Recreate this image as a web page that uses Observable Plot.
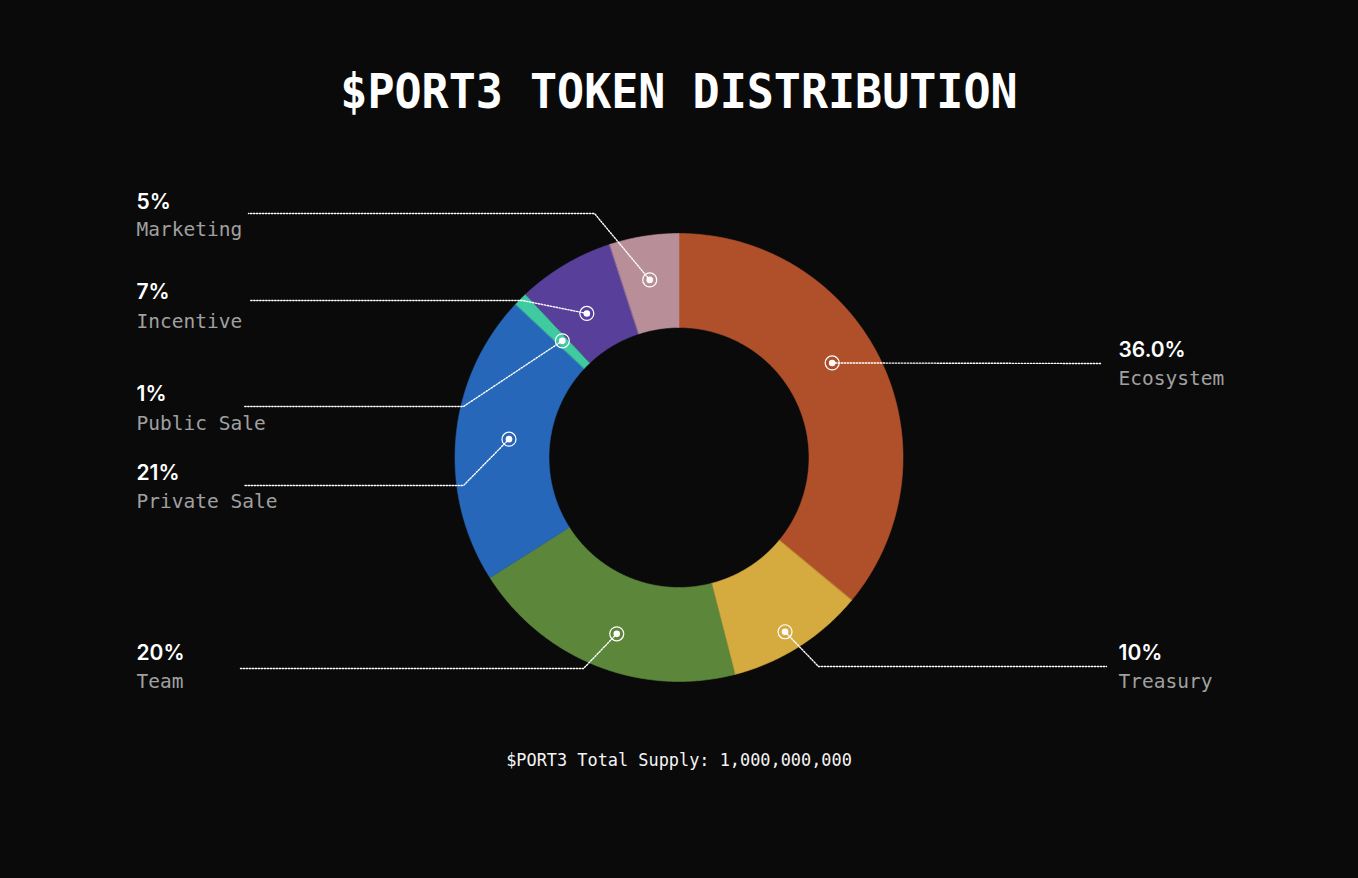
<!DOCTYPE html>
<html><head><meta charset="utf-8">
<script src="https://cdn.jsdelivr.net/npm/d3@7"></script>
<script src="https://cdn.jsdelivr.net/npm/@observablehq/plot@0.6"></script>
<style>
html,body{margin:0;padding:0;background:#0a0a0a;}
#page{position:relative;width:1358px;height:878px;overflow:hidden;background:#0a0a0a;}
#title{position:absolute;left:0;top:62px;width:1358px;text-align:center;font-family:"DejaVu Sans Mono",monospace;font-weight:bold;font-size:45px;line-height:60px;color:#fff;transform:scaleY(1.07);transform-origin:50% 50%;}
#chart{position:absolute;left:0;top:160px;}
#footer{position:absolute;left:0;top:750px;width:1358px;text-align:center;font-family:"DejaVu Sans Mono",monospace;font-size:16.9px;line-height:20px;color:#f4f4f4;}
</style></head>
<body>
<div id="page">
  <div id="title">$PORT3 TOKEN DISTRIBUTION</div>
  <div id="chart"></div>
  <div id="footer">$PORT3 Total Supply: 1,000,000,000</div>
</div>
<script>
// ---- data ----
const categories = ["Ecosystem", "Treasury", "Team", "Private Sale", "Public Sale", "Incentive", "Marketing"];
const shares = [36, 10, 20, 21, 1, 7, 5];
const pctLabels = ["36.0%", "10%", "20%", "21%", "1%", "7%", "5%"];
const colors = ["#b0502a", "#d5aa3e", "#5c873a", "#2767b9", "#3fcaa0", "#58409a", "#b88f98"];

// ---- annotation layout (px relative to donut centre, y downwards) ----
const sides      = ["right", "right", "left", "left", "left", "left", "left"];
const markerT    = [0.45, 0.53, 0.47, 0.51, 0.5, 0.42, 0.48];
const markerR    = [180, 204, 187, 171, 165, 171, 180];
const elbows     = [null, [139.5, 209], [-95.5, 211], [-215.5, 28], [-215.5, -51], [-156.5, -157], [-84.5, -244]];
const leaderY    = [-94, 209, 211, 28, -51, -157, -244];
const leaderEndX = [421.5, 427.5, -438.5, -435.5, -435.5, -428.5, -430.5];
const pctBase    = [-100.5, 202, 202, 22.5, -56.5, -159, -249];
const nameBase   = [-73, 230, 230, 50, -28, -130, -222];
const R_OUT = 224, R_IN = 130;
const LEFT_X = -542.5, RIGHT_X = 439.5;

const total = d3.sum(shares);
let cum = 0;
const slices = categories.map((name, i) => {
  const a0 = cum / total * 2 * Math.PI;
  cum += shares[i];
  const a1 = cum / total * 2 * Math.PI;
  return {name, i, a0, a1, color: colors[i]};
});

const pt = (a, r) => [r * Math.sin(a), -r * Math.cos(a)];

const slicePts = [];
for (const s of slices) {
  const n = Math.max(2, Math.ceil((s.a1 - s.a0) / (Math.PI / 360)));
  for (let k = 0; k <= n; k++) {
    const a = s.a0 + (s.a1 - s.a0) * k / n;
    const [x, y] = pt(a, R_OUT);
    slicePts.push({name: s.name, x, y, color: s.color});
  }
  for (let k = n; k >= 0; k--) {
    const a = s.a0 + (s.a1 - s.a0) * k / n;
    const [x, y] = pt(a, R_IN);
    slicePts.push({name: s.name, x, y, color: s.color});
  }
}

const markers = slices.map(s => {
  const a = s.a0 + (s.a1 - s.a0) * markerT[s.i];
  const [x, y] = pt(a, markerR[s.i]);
  return {name: s.name, x, y};
});

const leaderPts = [];
markers.forEach((m, i) => {
  leaderPts.push({name: m.name, x: m.x, y: m.y});
  if (elbows[i]) leaderPts.push({name: m.name, x: elbows[i][0], y: elbows[i][1]});
  leaderPts.push({name: m.name, x: leaderEndX[i], y: leaderY[i]});
});

const labels = categories.map((name, i) => ({
  name, pct: pctLabels[i],
  x: sides[i] === "left" ? LEFT_X : RIGHT_X,
  yp: pctBase[i], yn: nameBase[i]
}));

const marks = [];
for (const s of slices) {
  marks.push(Plot.line(slicePts.filter(d => d.name === s.name), {
    x: "x", y: "y", fill: s.color, stroke: s.color, strokeWidth: 0.6, curve: "linear-closed"
  }));
}
marks.push(
  Plot.line(leaderPts, {x: "x", y: "y", z: "name", stroke: "#ffffff", strokeWidth: 1.4, strokeDasharray: "1.4 1.6", curve: "linear"}),
  Plot.dot(markers, {x: "x", y: "y", r: 7, fill: "none", stroke: "#ffffff", strokeWidth: 1.2}),
  Plot.dot(markers, {x: "x", y: "y", r: 3.3, fill: "#ffffff"}),
  Plot.text(labels, {x: "x", y: "yp", text: "pct", textAnchor: "start", lineAnchor: "bottom",
    fill: "#ffffff", fontFamily: "Inter", fontWeight: 600, fontSize: 21}),
  Plot.text(labels, {x: "x", y: "yn", text: "name", textAnchor: "start", lineAnchor: "bottom",
    fill: "#a0a0a0", fontFamily: "DejaVu Sans Mono", fontSize: 19.5})
);

const chart = Plot.plot({
  width: 1358, height: 570, margin: 0,
  x: {domain: [-678.5, 679.5], range: [0, 1358], axis: null},
  y: {domain: [-297, 273], range: [0, 570], axis: null},
  style: {background: "transparent", overflow: "visible"},
  marks
});
document.getElementById("chart").appendChild(chart);
</script>
</body></html>
